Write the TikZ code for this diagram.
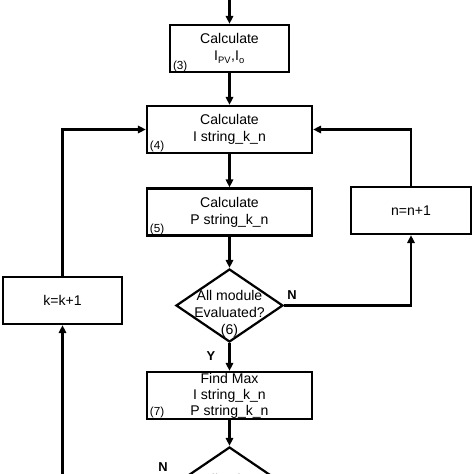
\documentclass[tikz,border=0pt]{standalone}
\usepackage{fontspec}
\setmainfont{Liberation Sans}
\usetikzlibrary{arrows.meta,shapes.geometric,calc}

\begin{document}
\begin{tikzpicture}[>={Triangle[length=2.4mm, width=2.2mm]}, line width=1.9pt,
    box/.style={draw, rectangle, minimum height=1.41cm, inner sep=0pt, align=center, font=\fontsize{12}{14.5}\selectfont},
    dec/.style={draw, diamond, minimum width=3.21cm, minimum height=2.19cm, inner sep=0pt},
    dtxt/.style={align=center, inner sep=0pt, font=\fontsize{12}{14.5}\selectfont},
    num/.style={anchor=base west, inner sep=0pt, font=\fontsize{10}{12}\selectfont},
    yn/.style={font=\fontsize{11}{13}\selectfont\bfseries}]
    \useasboundingbox (0, 0) rectangle (14.22, 14.22);
    \clip (0, 0) rectangle (14.22, 14.22);

    % 主流程方框
    \node[box, minimum width=3.57cm] (b3) at (6.885, 12.765) {Calculate\\I\textsubscript{PV},I\textsubscript{o}};
    \node[box, minimum width=4.95cm] (b4) at (6.885, 10.335) {Calculate\\I string\_k\_n};
    \node[box, minimum width=4.95cm] (b5) at (6.885, 7.86) {Calculate\\P string\_k\_n};
    \node[box, minimum width=4.95cm, font=\fontsize{12}{13.6}\selectfont] (b7) at (6.885, 2.355) {Find Max\\I string\_k\_n\\P string\_k\_n};

    % 判断框
    \node[dec] (d6) at (6.885, 5.055) {};
    \node[dtxt] (t6) at (6.885, 4.80) {All module\\Evaluated?\\(6)};
    \node[dec] (d8) at (6.885, -0.285) {};
    \node[dtxt, anchor=north] (t8) at (6.885, 0.03) {All string};

    % 左右两侧方框
    \node[box, minimum width=3.57cm] (kbox) at (1.875, 5.205) {k=k+1};
    \node[box, minimum width=3.6cm] (nbox) at (12.33, 7.905) {n=n+1};

    % 编号
    \node[num] (l3) at ($(b3.south west)+(0.09, 0.1)$) {(3)};
    \node[num] (l4) at ($(b4.south west)+(0.09, 0.13)$) {(4)};
    \node[num] (l5) at ($(b5.south west)+(0.09, 0.13)$) {(5)};
    \node[num] (l7) at ($(b7.south west)+(0.09, 0.13)$) {(7)};

    % 主流程箭头
    \coordinate (start) at (6.885, 14.4);
    \draw[->] (start) -- (b3);
    \draw[->] (b3) -- (b4);
    \draw[->] (b4) -- (b5);
    \draw[->] (b5) -- (d6);
    \draw[->] (d6) -- (b7);
    \draw[->] (b7) -- (d8);

    % 循环箭头
    \draw[->] (d6.east) -| (nbox.south);
    \draw[->] (nbox.north) |- (b4.east);
    \draw[->] (kbox.north) |- (b4.west);
    \draw[->] (d8.west) -| (kbox.south);

    % Y / N 标记
    \node[yn] (y6) at (6.33, 3.54) {Y};
    \node[yn] (n6) at (8.76, 5.37) {N};
    \node[yn] (n8) at (4.89, 0.21) {N};
\end{tikzpicture}
\end{document}
